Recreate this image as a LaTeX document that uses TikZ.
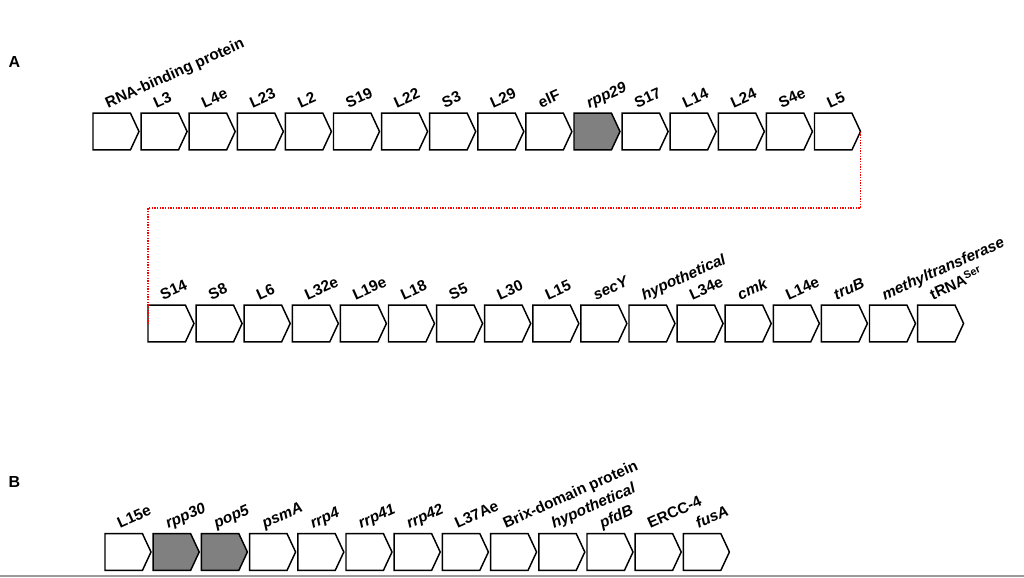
\documentclass[tikz,border=0pt]{standalone}
\usepackage{fontspec}
\setmainfont{Liberation Sans}
\usetikzlibrary{shapes.symbols,calc}
\begin{document}
\begin{tikzpicture}[x=0.75pt,y=-0.75pt,
  gene/.style={signal, signal to=east, signal pointer angle=130, draw=black, line width=1.1pt,
    fill=white, minimum width=34.5pt, minimum height=27.5pt, inner sep=0pt, anchor=west, outer sep=0pt},
  dark/.style={fill=black!50},
  lab/.style={rotate=24, anchor=base west, font=\bfseries\fontsize{11.5}{13}\selectfont, inner sep=0pt},
  panel/.style={font=\bfseries\fontsize{12}{14}\selectfont, anchor=west},
  link/.style={red, densely dotted, line width=1pt}]
\useasboundingbox (0,0) rectangle (1024,578);
\node[panel] (pA) at (4,62) {A};
\node[panel] (pB) at (4,482) {B};
% row A
\foreach \t [count=\i] in {RNA-binding protein,L3,L4e,L23,L2,S19,L22,S3,L29,elF,\textit{rpp29},S17,L14,L24,S4e,L5}{
  \ifnum\i=11 \node[gene,dark] (a\i) at ({93+(\i-1)*48.1},131.5) {};
  \else \node[gene] (a\i) at ({93+(\i-1)*48.1},131.5) {};\fi
  \node[lab] (la\i) at ($(a\i.north west)+(15,-5)$) {\t};
}
% row 2
\foreach \t [count=\i] in {S14,S8,L6,L32e,L19e,L18,S5,L30,L15,\textit{secY},\textit{hypothetical},L34e,\textit{cmk},L14e,\textit{truB},\textit{methyltransferase},tRNA\textsuperscript{Ser}}{
  \node[gene] (b\i) at ({148+(\i-1)*48.1},323.5) {};
  \node[lab] (lb\i) at ($(b\i.north west)+(15,-5)$) {\t};
}
% row B
\foreach \t [count=\i] in {L15e,\textit{rpp30},\textit{pop5},\textit{psmA},\textit{rrp4},\textit{rrp41},\textit{rrp42},L37Ae,Brix-domain protein,\textit{hypothetical},\textit{pfdB},ERCC-4,\textit{fusA}}{
  \ifnum\i=2 \node[gene,dark] (c\i) at ({105+(\i-1)*48.2},552) {};
  \else\ifnum\i=3 \node[gene,dark] (c\i) at ({105+(\i-1)*48.2},552) {};
  \else \node[gene] (c\i) at ({105+(\i-1)*48.2},552) {};\fi\fi
  \node[lab] (lc\i) at ($(c\i.north west)+(15,-5)$) {\t};
}
\coordinate (k1) at (a16.east |- 0,208);
\coordinate (k2) at (b1.west |- 0,208);
\draw[link] (a16.east) -- (k1) -- (k2) -- (b1.west);
\draw[black!40, line width=0.8pt] (0,576) -- (1024,576);
\end{tikzpicture}
\end{document}
